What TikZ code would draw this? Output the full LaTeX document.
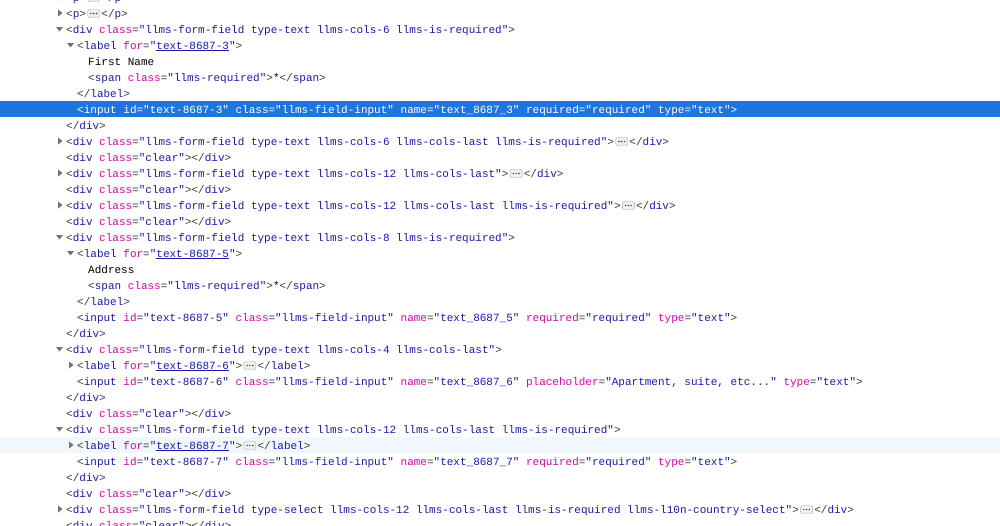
\documentclass[tikz,border=0pt]{standalone}
\usepackage{fontspec}
\newfontfamily\codefont{Liberation Mono}
\definecolor{tagc}{HTML}{1A1AA6}
\definecolor{attc}{HTML}{DD00A9}
\definecolor{valc}{HTML}{1A1AA6}
\definecolor{punc}{HTML}{38383D}
\definecolor{hlc}{HTML}{1F75E0}
\definecolor{softc}{HTML}{F0F7FD}
\definecolor{tric}{HTML}{737373}
\newcommand\Tg[1]{\textcolor{tagc}{#1}}
\newcommand\At[1]{\textcolor{attc}{#1}}
\newcommand\Vl[1]{\textcolor{valc}{#1}}
\newcommand\av[2]{ \At{#1}=\Vl{"#2"}}
\newcommand\avu[2]{ \At{#1}=\Vl{"\underline{#2}"}}
\newcommand\dotsbadge{\hspace{1.5pt}\tikz[baseline=0.5pt,x=1pt,y=1pt]{\draw[gray!70,fill=gray!12,rounded corners=1.5pt] (0,0) rectangle (12,8);
\fill[punc] (3.2,4) circle (0.8) (6,4) circle (0.8) (8.8,4) circle (0.8);}\hspace{1.5pt}}
\newcommand\clearline{<\Tg{div}\av{class}{clear}></\Tg{div}>}
\newcommand\openff[1]{<\Tg{div}\av{class}{#1}>}
\tikzset{code/.style={anchor=base west,inner sep=0pt,font=\codefont\fontsize{11}{13}\selectfont,text=punc},
tri/.style={fill=tric}}
\newcommand\rowln[4]{\node[code] (#1) at (#2,#3) {#4};}
\newcommand\down[1]{\fill[tri] (56,#1-2) -- (63,#1-2) -- (59.5,#1+2.5) -- cycle;}
\newcommand\rightt[1]{\fill[tri] (58,#1-3.5) -- (58,#1+3.5) -- (62.5,#1) -- cycle;}
\begin{document}
\begin{tikzpicture}[x=1pt,y=-1pt]
\useasboundingbox (0,0) rectangle (1000,525);
\clip (0,0) rectangle (1000,525);
\fill[white] (0,0) rectangle (1000,525);
\fill[hlc] (0,101) rectangle (1000,117);
\fill[softc] (0,437) rectangle (1000,453);
\rightt{-3}
\rowln{rm}{66}{1}{<\Tg{p}>\dotsbadge</\Tg{p}>}
\rightt{13}
\rowln{r0}{66}{17}{<\Tg{p}>\dotsbadge</\Tg{p}>}
\down{29}
\rowln{r1}{66}{33}{\openff{llms-form-field type-text llms-cols-6 llms-is-required}}
\fill[tri] (67,43) -- (74,43) -- (70.5,47.5) -- cycle;
\rowln{r2}{77}{49}{<\Tg{label}\avu{for}{text-8687-3}>}
\rowln{r3}{88}{65}{\color{black}First Name}
\rowln{r4}{88}{81}{<\Tg{span}\av{class}{llms-required}>\color{black}*\color{punc}</\Tg{span}>}
\rowln{r5}{77}{97}{</\Tg{label}>}
\rowln{r6}{77}{113}{\colorlet{tagc}{white}\colorlet{attc}{white}\colorlet{valc}{white}\color{white}<\Tg{input}\av{id}{text-8687-3}\av{class}{llms-field-input}\av{name}{text\_8687\_3}\av{required}{required}\av{type}{text}>}
\rowln{r7}{66}{129}{</\Tg{div}>}
\rightt{141}
\rowln{r8}{66}{145}{\openff{llms-form-field type-text llms-cols-6 llms-cols-last llms-is-required}\dotsbadge</\Tg{div}>}
\rowln{r9}{66}{161}{\clearline}
\rightt{173}
\rowln{r10}{66}{177}{\openff{llms-form-field type-text llms-cols-12 llms-cols-last}\dotsbadge</\Tg{div}>}
\rowln{r11}{66}{193}{\clearline}
\rightt{205}
\rowln{r12}{66}{209}{\openff{llms-form-field type-text llms-cols-12 llms-cols-last llms-is-required}\dotsbadge</\Tg{div}>}
\rowln{r13}{66}{225}{\clearline}
\down{237}
\rowln{r14}{66}{241}{\openff{llms-form-field type-text llms-cols-8 llms-is-required}}
\fill[tri] (67,251) -- (74,251) -- (70.5,255.5) -- cycle;
\rowln{r15}{77}{257}{<\Tg{label}\avu{for}{text-8687-5}>}
\rowln{r16}{88}{273}{\color{black}Address}
\rowln{r17}{88}{289}{<\Tg{span}\av{class}{llms-required}>\color{black}*\color{punc}</\Tg{span}>}
\rowln{r18}{77}{305}{</\Tg{label}>}
\rowln{r19}{77}{321}{<\Tg{input}\av{id}{text-8687-5}\av{class}{llms-field-input}\av{name}{text\_8687\_5}\av{required}{required}\av{type}{text}>}
\rowln{r20}{66}{337}{</\Tg{div}>}
\down{349}
\rowln{r21}{66}{353}{\openff{llms-form-field type-text llms-cols-4 llms-cols-last}}
\fill[tri] (69,361.5) -- (69,368.5) -- (73.5,365) -- cycle;
\rowln{r22}{77}{369}{<\Tg{label}\avu{for}{text-8687-6}>\dotsbadge</\Tg{label}>}
\rowln{r23}{77}{385}{<\Tg{input}\av{id}{text-8687-6}\av{class}{llms-field-input}\av{name}{text\_8687\_6}\av{placeholder}{Apartment, suite, etc...}\av{type}{text}>}
\rowln{r24}{66}{401}{</\Tg{div}>}
\rowln{r25}{66}{417}{\clearline}
\down{429}
\rowln{r26}{66}{433}{\openff{llms-form-field type-text llms-cols-12 llms-cols-last llms-is-required}}
\fill[tri] (69,441.5) -- (69,448.5) -- (73.5,445) -- cycle;
\rowln{r27}{77}{449}{<\Tg{label}\avu{for}{text-8687-7}>\dotsbadge</\Tg{label}>}
\rowln{r28}{77}{465}{<\Tg{input}\av{id}{text-8687-7}\av{class}{llms-field-input}\av{name}{text\_8687\_7}\av{required}{required}\av{type}{text}>}
\rowln{r29}{66}{481}{</\Tg{div}>}
\rowln{r30}{66}{497}{\clearline}
\rightt{509}
\rowln{r31}{66}{513}{\openff{llms-form-field type-select llms-cols-12 llms-cols-last llms-is-required llms-l10n-country-select}\dotsbadge</\Tg{div}>}
\rowln{r32}{66}{529}{\clearline}
\end{tikzpicture}
\end{document}
